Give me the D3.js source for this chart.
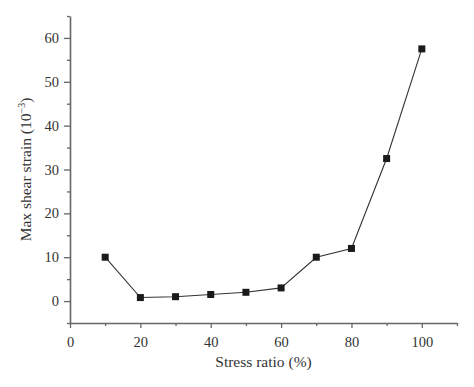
<!DOCTYPE html>
<html>
<head>
<meta charset="utf-8">
<script src="https://cdn.jsdelivr.net/npm/d3@7"></script>
<style>
  body { margin: 0; background: #fff; }
  svg { display: block; font-family: "Liberation Serif", "DejaVu Serif", serif; }
  .axis text { font-size: 14.5px; fill: #333; font-family: "Liberation Serif", "DejaVu Serif", serif; }
  .axis line, .axis path { stroke: #666; }
</style>
</head>
<body>
<svg id="chart"></svg>
<script>
const stressRatio = [10, 20, 30, 40, 50, 60, 70, 80, 90, 100];
const maxShearStrain = [10, 0.8, 1.0, 1.5, 2.0, 3.0, 10, 12, 32.5, 57.5];
const xTicks = [0, 20, 40, 60, 80, 100];
const xMinorTicks = [10, 30, 50, 70, 90, 110];
const yTicks = [0, 10, 20, 30, 40, 50, 60];
const yMinorTicks = [-5, 5, 15, 25, 35, 45, 55, 65];

const width = 474, height = 387;
const margin = {top: 16, right: 17, bottom: 64, left: 70};

const svg = d3.select("#chart")
  .attr("width", width)
  .attr("height", height);

const x = d3.scaleLinear()
  .domain([0, 110])
  .range([margin.left, width - margin.right]);

const y = d3.scaleLinear()
  .domain([-5, 65])
  .range([height - margin.bottom, margin.top]);

// minor ticks first
svg.append("g")
  .attr("class", "axis")
  .attr("transform", `translate(0,${height - margin.bottom})`)
  .call(d3.axisBottom(x).tickValues(xMinorTicks).tickSize(3).tickFormat(""))
  .call(g => g.select(".domain").remove())
  .selectAll("line").attr("stroke-width", 1.3);

svg.append("g")
  .attr("class", "axis")
  .attr("transform", `translate(${margin.left},0)`)
  .call(d3.axisLeft(y).tickValues(yMinorTicks).tickSize(3).tickFormat(""))
  .call(g => g.select(".domain").remove())
  .selectAll("line").attr("stroke-width", 1.3);

const xAxis = svg.append("g")
  .attr("class", "axis")
  .attr("transform", `translate(0,${height - margin.bottom})`)
  .call(d3.axisBottom(x).tickValues(xTicks).tickSize(5).tickSizeOuter(0).tickPadding(9));
xAxis.select(".domain").attr("stroke-width", 1.6);
xAxis.selectAll("line").attr("stroke-width", 1.3);

const yAxis = svg.append("g")
  .attr("class", "axis")
  .attr("transform", `translate(${margin.left},0)`)
  .call(d3.axisLeft(y).tickValues(yTicks).tickSize(6).tickSizeOuter(0).tickPadding(5));
yAxis.select(".domain").attr("stroke-width", 1.6);
yAxis.selectAll("line").attr("stroke-width", 1.3);

const points = stressRatio.map((s, i) => [s, maxShearStrain[i]]);

svg.append("path")
  .datum(points)
  .attr("fill", "none")
  .attr("stroke", "#333")
  .attr("stroke-width", 1.1)
  .attr("d", d3.line().x(d => x(d[0])).y(d => y(d[1])));

const size = 7;
svg.append("g")
  .selectAll("rect")
  .data(points)
  .enter()
  .append("rect")
  .attr("x", d => x(d[0]) - size / 2)
  .attr("y", d => y(d[1]) - size / 2)
  .attr("width", size)
  .attr("height", size)
  .attr("fill", "#1a1a1a");

svg.append("text")
  .attr("x", (margin.left + width - margin.right) / 2)
  .attr("y", 367)
  .attr("text-anchor", "middle")
  .attr("font-size", 15.5)
  .attr("fill", "#333")
  .text("Stress ratio (%)");

const yl = svg.append("text")
  .attr("transform", `translate(31,${(margin.top + height - margin.bottom) / 2}) rotate(-90)`)
  .attr("text-anchor", "middle")
  .attr("font-size", 15.5)
  .attr("fill", "#333");
yl.append("tspan").text("Max shear strain (10");
yl.append("tspan").attr("font-size", 10).attr("dy", -6).text("−3");
yl.append("tspan").attr("dy", 6).text(")");
</script>
</body>
</html>
